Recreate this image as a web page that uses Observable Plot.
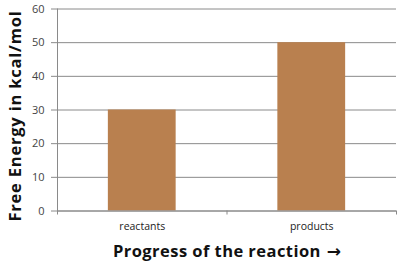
<!DOCTYPE html>
<html>
<head>
<meta charset="utf-8">
<script src="https://cdn.jsdelivr.net/npm/d3@7"></script>
<script src="https://cdn.jsdelivr.net/npm/@observablehq/plot@0.6"></script>
<style>
  html, body { margin: 0; padding: 0; background: #fff; }
  #chart svg { display: block; }
</style>
</head>
<body>
<div id="chart"></div>
<script>
const categories = ["reactants", "products"];
const values = [30, 50];
const yTicks = [0, 10, 20, 30, 40, 50, 60];
const xTitle = "Progress of the reaction";
const xArrow = "\u2192";
const yTitle = "Free Energy in kcal/mol";

const data = categories.map((c, i) => ({ category: c, index: i, value: values[i] }));
const boundaries = d3.range(categories.length + 1);
const centers = categories.map((c, i) => i + 0.5);

const chart = Plot.plot({
  width: 397,
  height: 267,
  marginLeft: 57,
  marginRight: 1,
  marginTop: 8.5,
  marginBottom: 56.5,
  style: { fontFamily: "'Open Sans', sans-serif", background: "#fff" },
  x: { domain: [0, categories.length], axis: null },
  y: { domain: [0, 60], axis: null },
  marks: [
    Plot.ruleY(yTicks, { stroke: "#8a8a8a", strokeWidth: 1 }),
    Plot.rectY(data, {
      x1: d => d.index + 0.3,
      x2: d => d.index + 0.7,
      y1: 0,
      y2: "value",
      fill: "#b9804f"
    }),
    Plot.axisY(yTicks, {
      anchor: "left",
      tickSize: 6,
      tickPadding: 7,
      stroke: "#8a8a8a",
      fill: "#444",
      fontSize: 11,
      label: null
    }),
    Plot.axisX(boundaries, {
      anchor: "bottom",
      tickSize: 4,
      stroke: "#8a8a8a",
      tickFormat: () => "",
      label: null
    }),
    Plot.axisX(centers, {
      anchor: "bottom",
      tickSize: 0,
      tickPadding: 12,
      fill: "#222",
      fontSize: 10.5,
      tickFormat: v => categories[Math.floor(v)],
      label: null
    }),
    Plot.frame({ anchor: "left", stroke: "#8a8a8a" }),
    Plot.ruleY([0], { stroke: "#8a8a8a" }),
    Plot.text([xTitle], {
      frameAnchor: "bottom",
      dy: 46,
      fontSize: 16.5,
      fontWeight: "bold",
      fill: "#111",
      className: "xtitle"
    }),
    Plot.text([yTitle], {
      frameAnchor: "left",
      textAnchor: "middle",
      rotate: -90,
      dx: -42,
      dy: 6,
      fontSize: 16.5,
      fontWeight: "bold",
      fill: "#111",
      className: "ytitle"
    })
  ]
});
d3.select(chart).selectAll(".xtitle text").attr("letter-spacing", 0.45)
  .each(function () {
    d3.select(this).append("tspan")
      .attr("font-family", "'DejaVu Sans', sans-serif")
      .attr("font-weight", "bold")
      .attr("font-size", 17)
      .attr("letter-spacing", 0)
      .text("\u00a0" + xArrow);
  });
d3.select(chart).selectAll(".ytitle text").attr("letter-spacing", 0.8);
document.getElementById("chart").append(chart);
</script>
</body>
</html>
